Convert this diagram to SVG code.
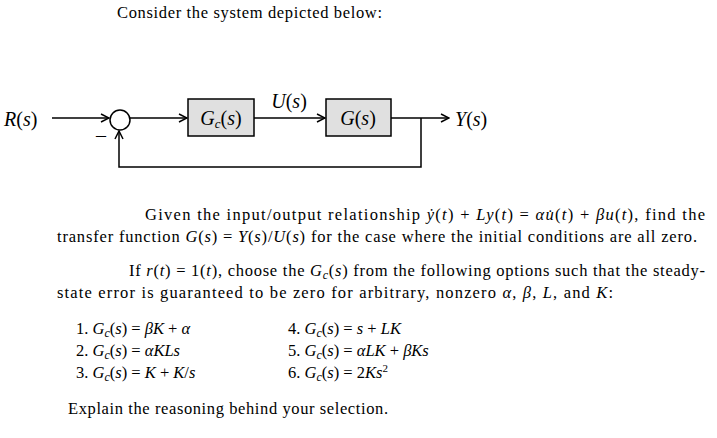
<svg xmlns="http://www.w3.org/2000/svg" width="717" height="438" viewBox="0 0 717 438">
<defs><marker id="a" markerWidth="10" markerHeight="10" refX="9" refY="5" orient="auto" markerUnits="userSpaceOnUse"><path d="M1,1 L9,5 L1,9" fill="none" stroke="#000" stroke-width="1.5"/></marker></defs>
<style>
text{font-family:"Liberation Serif",serif;font-size:16.5px;fill:#000}
.m{font-style:italic}
.b{font-size:20px}
.box{fill:#e0e0e0;stroke:#000;stroke-width:1.5}
.w{fill:none;stroke:#000;stroke-width:1.5}
</style>
<rect width="717" height="438" fill="#fff"/>
<text x="117" y="18" textLength="265" lengthAdjust="spacing">Consider the system depicted below:</text>
<g id="R"><text class="b" x="4" y="126"><tspan class="m">R</tspan>(<tspan class="m">s</tspan>)</text></g>
<g id="sum"><circle class="w" cx="120" cy="120" r="10"/><text class="b" x="96" y="142">–</text></g>
<g id="Gc"><rect class="box" x="188" y="99" width="66" height="37"/><text class="b" x="221" y="125" text-anchor="middle"><tspan class="m">G</tspan><tspan class="m" font-size="13" dy="3">c</tspan><tspan dy="-3">(</tspan><tspan class="m">s</tspan>)</text></g>
<g id="G"><rect class="box" x="326" y="99" width="65" height="37"/><text class="b" x="358" y="125" text-anchor="middle"><tspan class="m">G</tspan>(<tspan class="m">s</tspan>)</text></g>
<g id="Y"><text class="b" x="455" y="126"><tspan class="m">Y</tspan>(<tspan class="m">s</tspan>)</text></g>
<g id="connectors">
<line class="w" x1="52" y1="118" x2="109" y2="118" marker-end="url(#a)"/>
<line class="w" x1="130" y1="118" x2="187" y2="118" marker-end="url(#a)"/>
<line class="w" x1="254" y1="118" x2="325" y2="118" marker-end="url(#a)"/>
<text class="b" x="289" y="108" text-anchor="middle"><tspan class="m">U</tspan>(<tspan class="m">s</tspan>)</text>
<line class="w" x1="391" y1="118" x2="449" y2="118" marker-end="url(#a)"/>
<polyline class="w" points="421,118 421,167 119,167 119,131" marker-end="url(#a)"/>
</g>
<text x="145" y="220" textLength="560" lengthAdjust="spacing">Given the input/output relationship <tspan class="m">ẏ</tspan>(<tspan class="m">t</tspan>) + <tspan class="m">Ly</tspan>(<tspan class="m">t</tspan>) = <tspan class="m">αu̇</tspan>(<tspan class="m">t</tspan>) + <tspan class="m">βu</tspan>(<tspan class="m">t</tspan>), find the</text>
<text x="57" y="242" textLength="640" lengthAdjust="spacing">transfer function <tspan class="m">G</tspan>(<tspan class="m">s</tspan>) = <tspan class="m">Y</tspan>(<tspan class="m">s</tspan>)/<tspan class="m">U</tspan>(<tspan class="m">s</tspan>) for the case where the initial conditions are all zero.</text>
<text x="129" y="276" textLength="576" lengthAdjust="spacing">If <tspan class="m">r</tspan>(<tspan class="m">t</tspan>) = 1(<tspan class="m">t</tspan>), choose the <tspan class="m">G<tspan font-size="12" dy="3">c</tspan></tspan><tspan dy="-3">(</tspan><tspan class="m">s</tspan>) from the following options such that the steady-</text>
<text x="57" y="298" textLength="556" lengthAdjust="spacing">state error is guaranteed to be zero for arbitrary, nonzero <tspan class="m">α</tspan>, <tspan class="m">β</tspan>, <tspan class="m">L</tspan>, and <tspan class="m">K</tspan>:</text>
<text x="76" y="334">1. <tspan class="m">G<tspan font-size="12" dy="3">c</tspan></tspan><tspan dy="-3">(</tspan><tspan class="m">s</tspan>) = <tspan class="m">βK</tspan> + <tspan class="m">α</tspan></text>
<text x="76" y="356">2. <tspan class="m">G<tspan font-size="12" dy="3">c</tspan></tspan><tspan dy="-3">(</tspan><tspan class="m">s</tspan>) = <tspan class="m">αKLs</tspan></text>
<text x="76" y="378">3. <tspan class="m">G<tspan font-size="12" dy="3">c</tspan></tspan><tspan dy="-3">(</tspan><tspan class="m">s</tspan>) = <tspan class="m">K</tspan> + <tspan class="m">K</tspan>/<tspan class="m">s</tspan></text>
<text x="288" y="334">4. <tspan class="m">G<tspan font-size="12" dy="3">c</tspan></tspan><tspan dy="-3">(</tspan><tspan class="m">s</tspan>) = <tspan class="m">s</tspan> + <tspan class="m">LK</tspan></text>
<text x="288" y="356">5. <tspan class="m">G<tspan font-size="12" dy="3">c</tspan></tspan><tspan dy="-3">(</tspan><tspan class="m">s</tspan>) = <tspan class="m">αLK</tspan> + <tspan class="m">βKs</tspan></text>
<text x="288" y="378">6. <tspan class="m">G<tspan font-size="12" dy="3">c</tspan></tspan><tspan dy="-3">(</tspan><tspan class="m">s</tspan>) = 2<tspan class="m">Ks</tspan><tspan font-size="11" dy="-6">2</tspan></text>
<text x="68" y="414" textLength="320" lengthAdjust="spacing">Explain the reasoning behind your selection.</text>
</svg>
